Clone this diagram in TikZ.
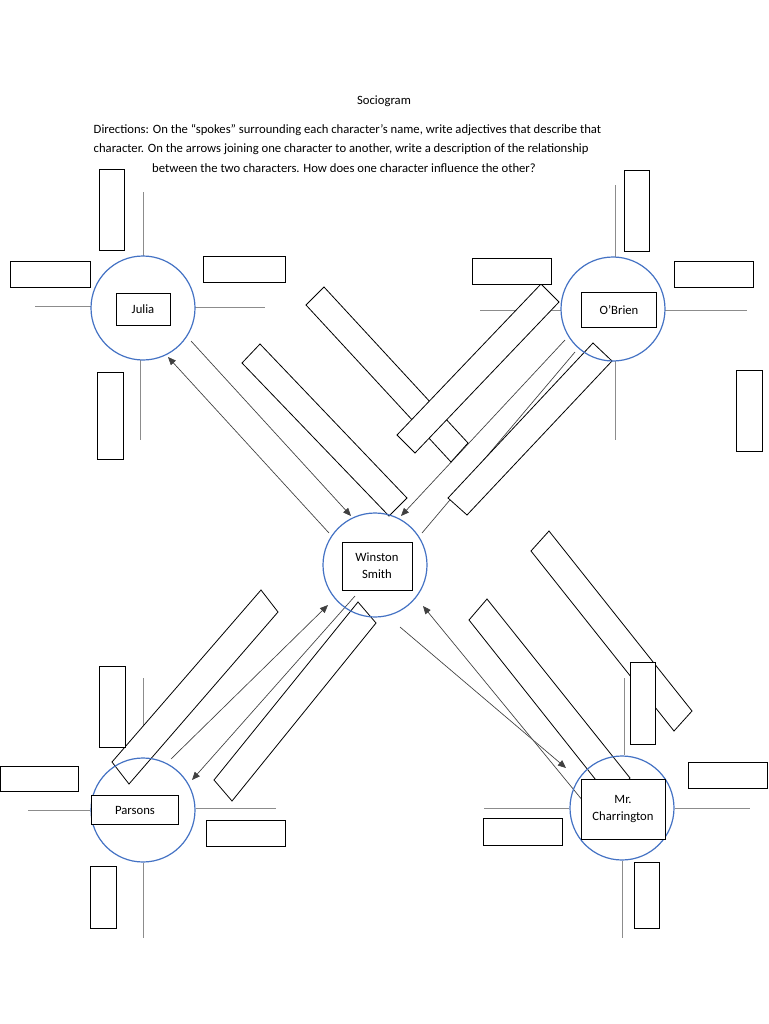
\documentclass[tikz,border=0pt]{standalone}
\usepackage{fontspec}
\setmainfont{Carlito}
\usetikzlibrary{arrows.meta}
\definecolor{cblue}{HTML}{4472C4}
\begin{document}
\begin{tikzpicture}[x=0.75pt,y=-0.75pt,
  spoke/.style={draw=black!45,line width=0.6pt},
  conn/.style={draw=black!75,line width=0.5pt},
  arr/.style={conn,-{Triangle[length=6pt,width=5pt]}},
  wbox/.style={draw,fill=white,line width=0.6pt},
  pers/.style={circle,draw=cblue,line width=0.9pt,minimum size=104pt*0.75,inner sep=0pt},
  lbl/.style={draw,fill=white,line width=0.6pt,font=\fontsize{9.5}{13}\selectfont,align=center,inner sep=0pt},
  txt/.style={font=\fontsize{9.5}{14}\selectfont}]
\useasboundingbox (0,0) rectangle (768,1024);
\fill[white] (0,0) rectangle (768,1024);
% texts
\node[txt] (title) at (384,101) {Sociogram};
\node[txt,anchor=west] (d1) at (89,130) {Directions: On the “spokes” surrounding each character’s name, write adjectives that describe that};
\node[txt,anchor=west] (d2) at (89,149) {character. On the arrows joining one character to another, write a description of the relationship};
\node[txt] (d3) at (344,168) {between the two characters. How does one character influence the other?};
% circle centres
\coordinate (J) at (143,308); \coordinate (O) at (613,309); \coordinate (W) at (375,565);
\coordinate (P) at (143,810); \coordinate (C) at (622,808);
% spokes
\draw[spoke] (143,192) -- (143,256); \draw[spoke] (140,360) -- (140,440);
\draw[spoke] (35,306) -- (91,306); \draw[spoke] (195,307) -- (265,307);
\draw[spoke] (615,185) -- (615,257); \draw[spoke] (615,361) -- (615,440);
\draw[spoke] (480,310) -- (561,310); \draw[spoke] (665,310) -- (747,310);
\draw[spoke] (143,678) -- (143,757); \draw[spoke] (143,863) -- (143,938);
\draw[spoke] (28,810) -- (90,810); \draw[spoke] (196,808) -- (276,808);
\draw[spoke] (624,678) -- (624,755); \draw[spoke] (622,861) -- (622,938);
\draw[spoke] (484,808) -- (569,808); \draw[spoke] (675,808) -- (750,808);
% connectors
\coordinate (j1) at (191,341); \coordinate (w1) at (351,516);
\coordinate (w2) at (329,533); \coordinate (j2) at (168,357);
\coordinate (o1) at (565,340); \coordinate (w3) at (401,516);
\coordinate (w4) at (422,533); \coordinate (o2) at (575,352);
\coordinate (p1) at (171,759); \coordinate (w5) at (328,605);
\coordinate (w6) at (355,596); \coordinate (p2) at (192,780);
\coordinate (c1) at (583,801); \coordinate (w7) at (423,606);
\coordinate (w8) at (400,627); \coordinate (c2) at (566,768);
\draw[arr] (j1) -- (w1);
\draw[arr] (w2) -- (j2);
\draw[arr] (o1) -- (w3);
\draw[conn] (w4) -- (o2);
\draw[arr] (p1) -- (w5);
\draw[arr] (w6) -- (p2);
\draw[arr] (c1) -- (w7);
\draw[arr] (w8) -- (c2);
% diagonal boxes
\draw[wbox] (324,287) -- (306,305) -- (451,462) -- (468,443) -- cycle;
\draw[wbox] (541,284) -- (559,302) -- (415,453) -- (397,435) -- cycle;
\draw[wbox] (260,344) -- (242,363) -- (389,516) -- (407,498) -- cycle;
\draw[wbox] (593,343) -- (612,361) -- (467,515) -- (448,498) -- cycle;
\draw[wbox] (261,590) -- (278,612) -- (129,784) -- (112,762) -- cycle;
\draw[wbox] (358,602) -- (376,623) -- (232,801) -- (214,780) -- cycle;
\draw[wbox] (487,599) -- (469,620) -- (611,799) -- (630,778) -- cycle;
\draw[wbox] (549,531) -- (531,551) -- (674,731) -- (692,711) -- cycle;
% small boxes
\foreach \a/\b/\c/\d/\n in {99/169/124/250/b1, 10/261/90/287/b2, 203/256/285/282/b3, 97/372/123/459/b4,
  624/170/649/251/b5, 472/258/551/284/b6, 674/261/753/287/b7, 736/370/762/451/b8,
  99/666/125/747/b9, 0/766/78/791/b10, 206/820/285/846/b11, 90/866/116/928/b12,
  630/662/655/744/b13, 688/762/767/788/b14, 483/818/562/845/b15, 634/862/659/928/b16}
  \draw[wbox] (\a,\b) rectangle (\c,\d) coordinate (\n);
% characters
\node[pers] (julia) at (J) {};
\node[pers] (obrien) at (O) {};
\node[pers] (winston) at (W) {};
\node[pers] (parsons) at (P) {};
\node[pers] (charr) at (C) {};
\node[lbl,minimum width=54*0.75pt,minimum height=32*0.75pt] (jl) at (143,309) {Julia};
\node[lbl,minimum width=75*0.75pt,minimum height=35*0.75pt] (ol) at (619,310) {O’Brien};
\node[lbl,minimum width=70*0.75pt,minimum height=48*0.75pt] (wl) at (377,566) {Winston\\Smith};
\node[lbl,minimum width=87*0.75pt,minimum height=29*0.75pt] (pl) at (135,810) {Parsons};
\node[lbl,minimum width=84*0.75pt,minimum height=60*0.75pt] (cl) at (623,809) {Mr.\\Charrington};
\end{tikzpicture}
\end{document}
